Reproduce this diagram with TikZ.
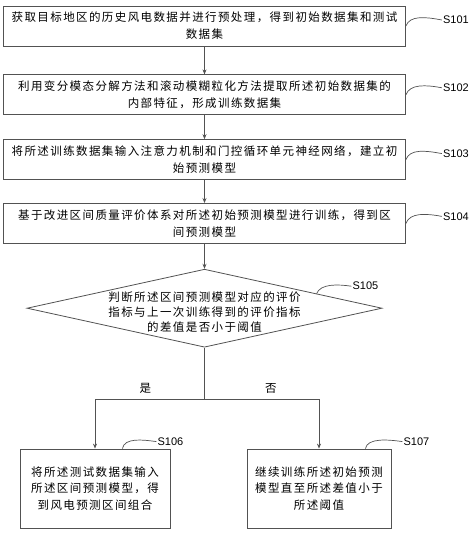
\documentclass[tikz,border=0pt]{standalone}
\usepackage{fontspec}
\setmainfont{Liberation Sans}
\newfontfamily\cjk[LetterSpace=12.2]{Noto Sans CJK SC}
\usetikzlibrary{shapes.geometric,arrows.meta,positioning,calc}
\definecolor{lineGray}{gray}{0.32}

\begin{document}
\begin{tikzpicture}[
    x=1pt, y=1pt,
    font=\cjk\fontsize{11.5}{17}\selectfont,
    stepBox/.style={
        rectangle, draw=lineGray, line width=0.8pt,
        text width=394pt, minimum height=40pt, inner sep=4pt, align=center
    },
    decisionBox/.style={
        diamond, draw=lineGray, line width=0.8pt,
        minimum width=355pt, minimum height=78pt, inner sep=0pt
    },
    resultBox/.style={
        rectangle, draw=lineGray, line width=0.8pt,
        minimum height=79pt, inner sep=5pt, align=center,
        font=\cjk\fontsize{11.5}{16.5}\selectfont
    },
    flow/.style={
        -{Stealth[length=5pt, width=4pt]}, line width=0.8pt, draw=lineGray
    },
    tagTxt/.style={
        font=\normalfont\fontsize{11}{12}\selectfont, inner sep=1pt
    },
    tagLine/.style={
        line width=0.7pt, draw=lineGray
    }
]
\useasboundingbox (0,0) rectangle (474,-533);

% Steps S101 - S104
\node[stepBox] (acquire) at (204.5,-26) {
    获取目标地区的历史风电数据并进行预处理，得到初始数据集和测试\\数据集
};
\node[stepBox, below=28pt of acquire] (extract) {
    利用变分模态分解方法和滚动模糊粒化方法提取所述初始数据集的\\内部特征，形成训练数据集
};
\node[stepBox, below=24pt of extract] (build) {
    将所述训练数据集输入注意力机制和门控循环单元神经网络，建立初\\始预测模型
};
\node[stepBox, below=23pt of build] (train) {
    基于改进区间质量评价体系对所述初始预测模型进行训练，得到区\\间预测模型
};

% Decision S105
\node[decisionBox, below=25pt of train] (check) {};
\node[align=center, font=\cjk\fontsize{11.5}{15}\selectfont, yshift=-4pt] (checkText) at (check.center) {
    判断所述区间预测模型对应的评价\\
    指标与上一次训练得到的评价指标\\
    的差值是否小于阈值
};
\coordinate[below=52pt of check.south] (split);

% Outcomes S106 / S107
\node[resultBox, text width=140pt] (output) at (95,-488.5) {
    将所述测试数据集输入\\所述区间预测模型，得\\到风电预测区间组合
};
\node[resultBox, text width=134pt] (retrain) at (319,-488.5) {
    继续训练所述初始预测\\模型直至所述差值小于\\所述阈值
};

% Step tags
\node[tagTxt, right=36pt of acquire.east, yshift=6pt] (s101) {S101};
\node[tagTxt, right=36pt of extract.east, yshift=7pt] (s102) {S102};
\node[tagTxt, right=36pt of build.east, yshift=6pt] (s103) {S103};
\node[tagTxt, right=36pt of train.east, yshift=7pt] (s104) {S104};
\node[tagTxt, anchor=west] (s105) at ($(check.east)+(-31,22)$) {S105};
\node[tagTxt, anchor=west] (s106) at ($(output.north east)+(-14,7)$) {S106};
\node[tagTxt, anchor=west] (s107) at ($(retrain.north east)+(11,7)$) {S107};

\foreach \stepName/\stepTag in {acquire/s101, extract/s102, build/s103, train/s104}
    \draw[tagLine] (\stepName.east) .. controls +(4,11) and +(-16,3) .. (\stepTag.west);
\draw[tagLine] ($(check.north)!0.63!(check.east)$) .. controls +(4,10) and +(-14,2) .. (s105.west);
\draw[tagLine] ($(output.north east)+(-48,0)$) .. controls +(2,11) and +(-14,2) .. (s106.west);
\draw[tagLine] ($(retrain.north east)+(-26,0)$) .. controls +(2,11) and +(-14,2) .. (s107.west);

% Flows
\draw[flow] (acquire) -- (extract);
\draw[flow] (extract) -- (build);
\draw[flow] (build) -- (train);
\draw[flow] (train) -- (check);
\draw[tagLine, line width=0.8pt] (check) -- (split);
\draw[flow] (split) -| node[pos=0.27, above=6pt, inner sep=0pt] {是} (output);
\draw[flow] (split) -| node[pos=0.29, above=6pt, inner sep=0pt] {否} (retrain);

\end{tikzpicture}
\end{document}
